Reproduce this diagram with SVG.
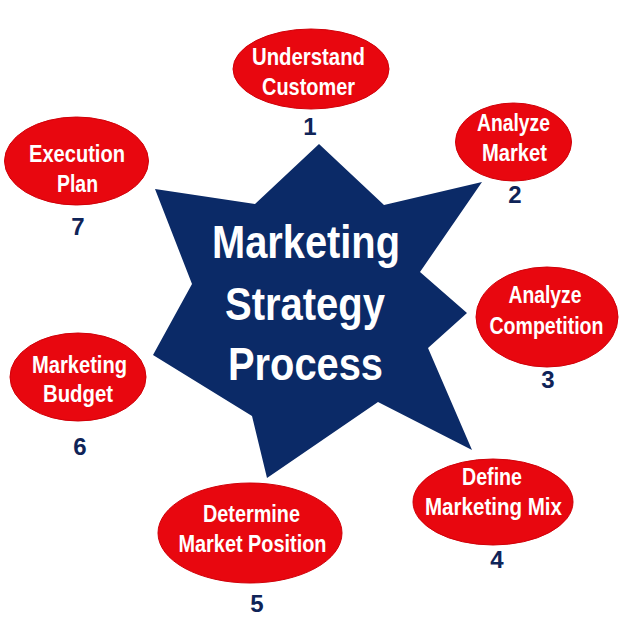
<svg xmlns="http://www.w3.org/2000/svg" width="621" height="623" viewBox="0 0 621 623">
<style>
.bub{fill:#e8070f;stroke:#d00008;stroke-width:1}
.lbl{font-family:"Liberation Sans",Arial,sans-serif;font-weight:bold;font-size:24px;fill:#ffffff;text-anchor:middle}
.num{font-family:"Liberation Sans",Arial,sans-serif;font-weight:bold;font-size:24px;fill:#0f2458;text-anchor:middle}
.title{font-family:"Liberation Sans",Arial,sans-serif;font-weight:bold;font-size:46px;fill:#ffffff;text-anchor:middle}
</style>
<rect width="621" height="623" fill="#ffffff"/>
<g id="connectors"/>
<g id="center">
<polygon points="319,144 384,205 482,182 420,272 467,313 428,348 472,450 378,402 267,478 252,416 153,355 192,284 155,189 255,204" fill="#0b2a67"/>
<text class="title" x="306" y="258" textLength="188" lengthAdjust="spacingAndGlyphs">Marketing</text>
<text class="title" x="305" y="320" textLength="160" lengthAdjust="spacingAndGlyphs">Strategy</text>
<text class="title" x="305.5" y="380" textLength="155" lengthAdjust="spacingAndGlyphs">Process</text>
</g>
<g id="n1">
<ellipse class="bub" cx="311" cy="69" rx="78" ry="40"/>
<text class="lbl" x="308.5" y="65" textLength="113" lengthAdjust="spacingAndGlyphs">Understand</text>
<text class="lbl" x="308.5" y="95" textLength="93" lengthAdjust="spacingAndGlyphs">Customer</text>
<text class="num" x="310" y="135">1</text>
</g>
<g id="n2">
<ellipse class="bub" cx="513.5" cy="142" rx="58" ry="39"/>
<text class="lbl" x="513.5" y="131" textLength="73" lengthAdjust="spacingAndGlyphs">Analyze</text>
<text class="lbl" x="514.5" y="161" textLength="65" lengthAdjust="spacingAndGlyphs">Market</text>
<text class="num" x="515" y="203">2</text>
</g>
<g id="n3">
<ellipse class="bub" cx="547" cy="317" rx="71" ry="50"/>
<text class="lbl" x="545" y="303" textLength="73" lengthAdjust="spacingAndGlyphs">Analyze</text>
<text class="lbl" x="546.5" y="334" textLength="114" lengthAdjust="spacingAndGlyphs">Competition</text>
<text class="num" x="548" y="388">3</text>
</g>
<g id="n4">
<ellipse class="bub" cx="493" cy="502" rx="80" ry="43"/>
<text class="lbl" x="492" y="485" textLength="60" lengthAdjust="spacingAndGlyphs">Define</text>
<text class="lbl" x="493.5" y="515" textLength="137" lengthAdjust="spacingAndGlyphs">Marketing Mix</text>
<text class="num" x="497" y="568">4</text>
</g>
<g id="n5">
<ellipse class="bub" cx="250" cy="533" rx="92" ry="50"/>
<text class="lbl" x="251.5" y="522" textLength="97" lengthAdjust="spacingAndGlyphs">Determine</text>
<text class="lbl" x="252.5" y="552" textLength="148" lengthAdjust="spacingAndGlyphs">Market Position</text>
<text class="num" x="257" y="612">5</text>
</g>
<g id="n6">
<ellipse class="bub" cx="78" cy="377" rx="68" ry="44"/>
<text class="lbl" x="79.5" y="373" textLength="95" lengthAdjust="spacingAndGlyphs">Marketing</text>
<text class="lbl" x="78" y="402" textLength="70" lengthAdjust="spacingAndGlyphs">Budget</text>
<text class="num" x="80" y="455">6</text>
</g>
<g id="n7">
<ellipse class="bub" cx="76.5" cy="161" rx="72" ry="44"/>
<text class="lbl" x="77" y="162" textLength="96" lengthAdjust="spacingAndGlyphs">Execution</text>
<text class="lbl" x="77.5" y="192" textLength="41" lengthAdjust="spacingAndGlyphs">Plan</text>
<text class="num" x="78" y="235">7</text>
</g>
</svg>
